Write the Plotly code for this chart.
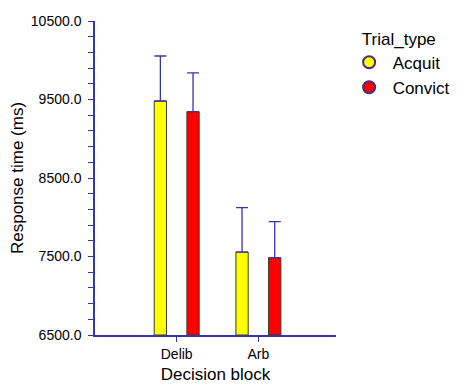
import plotly.graph_objects as go

categories = ["Delib", "Arb"]
series_names = ["Acquit", "Convict"]
acquit_mean = [9481, 7557]
acquit_err = [573, 565]
convict_mean = [9345, 7485]
convict_err = [493, 459]
y_ticks = [6500, 7500, 8500, 9500, 10500]
y_min, y_max = 6500, 10500

colors = ["#FFFF00", "#FF0000"]
navy = "#3636A6"
font = "Liberation Sans, Arial, sans-serif"
tick_font = "Liberation Sans Narrow, Liberation Sans, Arial, sans-serif"

fig = go.Figure()
x_idx = list(range(len(categories)))
offsets = [-0.20, 0.20]
for name, means, errs, col, off in zip(series_names, [acquit_mean, convict_mean],
                                       [acquit_err, convict_err], colors, offsets):
    fig.add_trace(go.Bar(
        x=[i + off for i in x_idx],
        y=[m - y_min for m in means],
        base=y_min,
        width=0.15,
        marker=dict(color=col, line=dict(color="#3A3A20", width=1)),
        error_y=dict(type="data", symmetric=False, array=errs, arrayminus=[0] * len(errs),
                     color=navy, thickness=1.3, width=6),
        showlegend=False,
        name=name,
    ))
    fig.add_trace(go.Scatter(
        x=[None], y=[None], mode="markers", name=name,
        marker=dict(symbol="circle", size=15, color=col, line=dict(color="#4A2A80", width=1.2)),
        showlegend=True,
    ))

fig.update_layout(
    width=466, height=377,
    margin=dict(l=87, r=138, t=13, b=50, autoexpand=False),
    plot_bgcolor="white", paper_bgcolor="white",
    font=dict(family=font, color="black"),
    legend=dict(
        title=dict(text="\u00a0\u00a0\u00a0Trial_type", font=dict(size=17, family=font)),
        font=dict(size=17, family=font),
        x=1.04, y=0.995, xanchor="left", yanchor="top",
        bgcolor="rgba(0,0,0,0)", tracegroupgap=0, itemsizing="constant",
        itemwidth=37,
    ),
    xaxis=dict(
        range=[-1, 1.95],
        tickmode="array", tickvals=x_idx, ticktext=categories,
        ticks="outside", ticklen=5, tickcolor=navy, tickwidth=1,
        showline=True, linecolor=navy, linewidth=1.5,
        showgrid=False, zeroline=False, automargin=False,
        tickfont=dict(size=14, family=font),
        title=dict(text="Decision block", font=dict(size=17, family=font), standoff=8),
    ),
    yaxis=dict(
        range=[y_min, y_max],
        tickmode="array", tickvals=y_ticks, ticktext=[f"{v:.1f}" for v in y_ticks],
        ticks="outside", ticklen=5, tickcolor=navy, tickwidth=1,
        minor=dict(ticks="outside", dtick=200, tick0=6500, ticklen=5, tickcolor=navy, tickwidth=1, showgrid=False),
        showline=True, linecolor=navy, linewidth=1.5,
        showgrid=False, zeroline=False, automargin=False,
        tickfont=dict(size=14, family=tick_font),
        ticklabelstandoff=4,
        title=dict(text="Response time (ms)", font=dict(size=17, family=font), standoff=6),
    ),
)

fig.write_html("out.html")
